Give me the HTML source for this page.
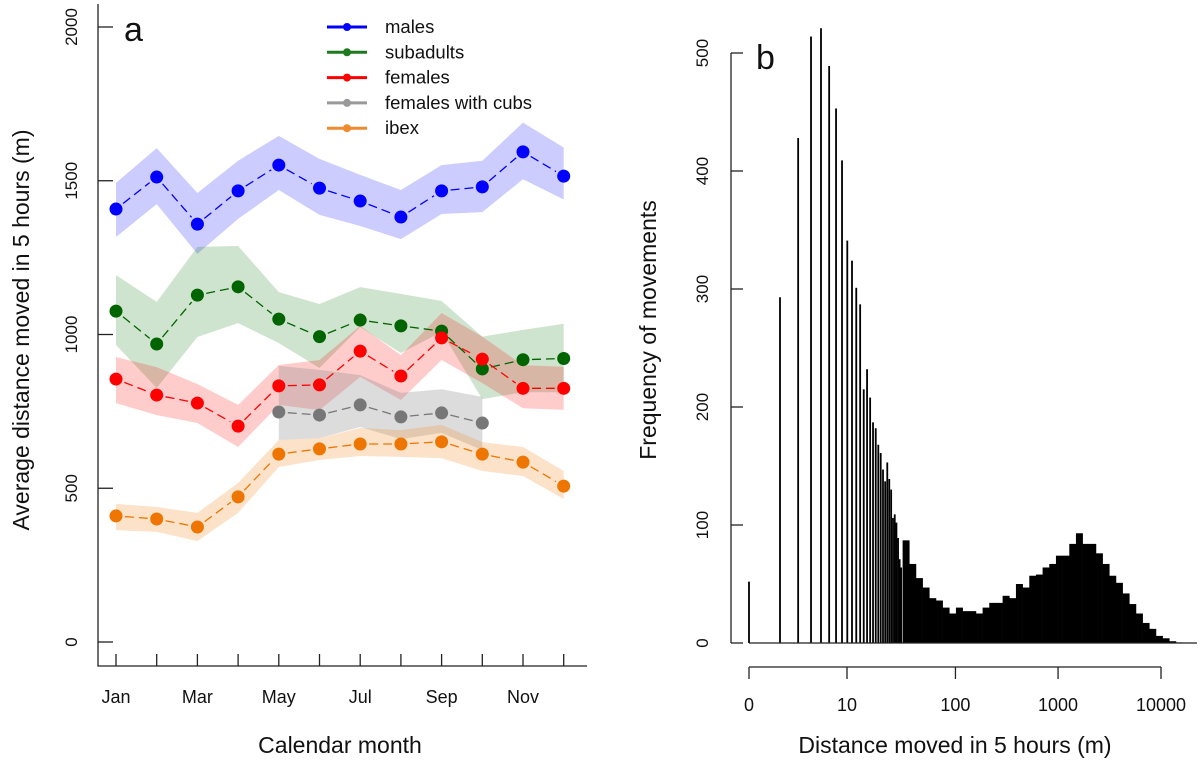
<!DOCTYPE html>
<html><head><meta charset="utf-8"><style>
html,body{margin:0;padding:0;background:#fff;}
svg{display:block;font-family:"Liberation Sans",Arial,sans-serif;}
</style></head><body>
<svg id="chart" width="1200" height="774" viewBox="0 0 1200 774" xmlns="http://www.w3.org/2000/svg">
<g id="pa"></g>
<g id="pb"></g>
</svg>
<script>
// ---------- Panel a data ----------
const months = ["Jan","Feb","Mar","Apr","May","Jun","Jul","Aug","Sep","Oct","Nov","Dec"];
const monthLabels = ["Jan","","Mar","","May","","Jul","","Sep","","Nov",""];
const yTicksA = [0,500,1000,1500,2000];
const malesMean = [1408,1512,1359,1467,1551,1476,1434,1382,1467,1480,1594,1515];
const malesHi =   [1493,1606,1460,1565,1646,1571,1519,1470,1551,1565,1689,1608];
const malesLo =   [1317,1424,1262,1376,1470,1389,1353,1310,1392,1398,1505,1439];
const subMean = [1076,969,1128,1155,1050,993,1047,1028,1011,888,918,922];
const subHi =   [1193,1106,1285,1288,1138,1099,1154,1132,1109,993,1015,1035];
const subLo =   [966,826,992,1037,972,891,1024,940,1008,790,812,812];
const femMean = [855,803,777,702,833,836,946,865,989,920,825,825];
const femHi =   [927,894,839,771,901,917,1028,933,1070,993,900,895];
const femLo =   [777,738,712,634,771,754,862,787,917,842,760,755];
const cubMonths = [4,5,6,7,8,9];
const cubMean = [748,738,771,732,745,712];
const cubHi =   [898,885,868,810,822,797];
const cubLo =   [657,663,699,660,680,624];
const ibexMean = [410,400,374,472,611,628,644,644,651,611,585,507];
const ibexHi =   [449,439,420,517,657,663,696,689,706,650,634,556];
const ibexLo =   [364,358,328,420,569,592,605,602,598,556,540,465];

// ---------- Panel b data ----------
const spikeCounts = [52,293,428,514,521,489,453,409,341,324,301,287,215,232,208,187,182,168,161,147,137,153,139,130,106,109,102,89,71,64];
const contFreq = [87,67,55,47,38,36,30,25,30,27,27,25,30,34,34,40,38,50,47,57,58,64,67,74,74,84,93,84,84,76,67,57,51,42,33,25,17,12,6,4,1.5,0.5,0];
const xTicksB = [0,10,100,1000,10000];
const yTicksB = [0,100,200,300,400,500];
const contStart = 30, contStepDecades = 1/15.45;

const NS="http://www.w3.org/2000/svg";
function mk(tag, attrs, parent){const e=document.createElementNS(NS,tag);for(const k in attrs)e.setAttribute(k,attrs[k]);parent.appendChild(e);return e;}
function txt(s, attrs, parent){const e=mk('text',attrs,parent);e.textContent=s;return e;}

// ---------- Panel a ----------
const pa=document.getElementById('pa');
const xA = i => 116 + i*40.7;
const yA = v => 642 - v*0.3075;

function band(idx, hi, lo, fill, name){
  let pts=idx.map((m,k)=>xA(m)+','+yA(hi[k]));
  pts=pts.concat(idx.slice().reverse().map((m,k)=>xA(m)+','+yA(lo[idx.length-1-k])));
  const p=mk('polygon',{points:pts.join(' '),fill:fill,stroke:'none'},pa);
  
  
}
function series(idx, mean, color, name){
  const g=mk('g',{},pa);
  
  
  for(let k=0;k<idx.length-1;k++){
    const x1=xA(idx[k]),y1=yA(mean[k]),x2=xA(idx[k+1]),y2=yA(mean[k+1]);
    const L=Math.hypot(x2-x1,y2-y1),g0=9;
    if(L>2*g0){const ux=(x2-x1)/L,uy=(y2-y1)/L;
      mk('line',{x1:x1+ux*g0,y1:y1+uy*g0,x2:x2-ux*g0,y2:y2-uy*g0,stroke:color,'stroke-width':1.3,'stroke-dasharray':'9,5'},g);}
  }
  idx.forEach((m,k)=>{
    const c=mk('circle',{cx:xA(m),cy:yA(mean[k]),r:6.5,fill:color},g);
    
    
  });
}
const all=months.map((_,i)=>i);
band(all,malesHi,malesLo,'rgba(0,0,255,0.2)','males-ci-band');
band(all,subHi,subLo,'rgba(0,110,0,0.19)','subadults-ci-band');
band(all,femHi,femLo,'rgba(255,0,0,0.2)','females-ci-band');
band(cubMonths,cubHi,cubLo,'rgba(128,128,128,0.28)','cubs-ci-band');
band(all,ibexHi,ibexLo,'rgba(240,140,40,0.25)','ibex-ci-band');
series(all,malesMean,'#0000ff','males-series');
series(all,subMean,'#006400','subadults-series');
series(all,femMean,'#ff0000','females-series');
series(cubMonths,cubMean,'#777777','cubs-series');
series(all,ibexMean,'#ee7600','ibex-series');

// axes a
const axA=mk('g',{},pa);


mk('path',{d:'M98,4 L98,666 L587,666',fill:'none',stroke:'#222','stroke-width':1.3},axA);
yTicksA.forEach(v=>{
  mk('line',{x1:98,x2:113,y1:yA(v),y2:yA(v),stroke:'#222','stroke-width':1.3},axA);
  const t=txt(String(v),{x:0,y:0,'font-size':17,'text-anchor':'middle',fill:'#111',transform:`translate(77,${yA(v)}) rotate(-90)`},axA);
  
  
});
months.forEach((m,i)=>{
  mk('line',{x1:xA(i),x2:xA(i),y1:654,y2:666,stroke:'#222','stroke-width':1.3},axA);
  if(monthLabels[i]){
    const t=txt(monthLabels[i],{x:xA(i),y:703,'font-size':18,'text-anchor':'middle',fill:'#111'},axA);
    
    
  }
});
txt('Calendar month',{x:340,y:753,'font-size':23,'text-anchor':'middle',fill:'#111',},pa);
txt('Average distance moved in 5 hours (m)',{x:0,y:0,'font-size':23,'text-anchor':'middle',fill:'#111',transform:'translate(29,330) rotate(-90)',},pa);
txt('a',{x:124,y:41,'font-size':34,fill:'#111',},pa);

// legend
const legend=mk('g',{},pa);
const legItems=[['males','#0000ff'],['subadults','#1e7a1e'],['females','#ff0000'],['females with cubs','#999999'],['ibex','#f08a30']];
legItems.forEach((it,k)=>{
  const y=27+k*25.3;
  const g=mk('g',{},legend);
  
  
  mk('line',{x1:327,x2:367,y1:y,y2:y,stroke:it[1],'stroke-width':3},g);
  mk('circle',{cx:347,cy:y,r:4,fill:it[1]},g);
  txt(it[0],{x:385,y:y+6,'font-size':18.5,fill:'#111'},g);
});

// ---------- Panel b ----------
const pb=document.getElementById('pb');
const xB = d => 749 + 103*Math.log10(d+1);
const yB = f => 643 - f*1.18;
const bars=mk('g',{},pb);
spikeCounts.forEach((f,d)=>{
  const r=mk('rect',{x:xB(d)-0.9,y:yB(f),width:1.8,height:643-yB(f),fill:'#000'},bars);
  
  
});
contFreq.forEach((f,i)=>{
  const l0=Math.log10(contStart+1)+i*contStepDecades, l1=l0+contStepDecades;
  const x0=xB(Math.pow(10,l0)-1), x1=xB(Math.pow(10,l1)-1);
  const r=mk('rect',{x:x0,y:yB(f),width:x1-x0+0.3,height:643-yB(f),fill:'#000'},bars);
  
  
});
const axB=mk('g',{},pb);
mk('line',{x1:749,x2:1197,y1:643,y2:643,stroke:'#222','stroke-width':1.3},axB);
mk('line',{x1:731,x2:731,y1:yB(500),y2:yB(0),stroke:'#222','stroke-width':1.3},axB);
yTicksB.forEach(v=>{
  mk('line',{x1:731,x2:743,y1:yB(v),y2:yB(v),stroke:'#222','stroke-width':1.3},axB);
  const t=txt(String(v),{x:0,y:0,'font-size':17,'text-anchor':'middle',fill:'#111',transform:`translate(708,${yB(v)}) rotate(-90)`},axB);
  
  
});
mk('line',{x1:xB(0),x2:xB(10000),y1:667,y2:667,stroke:'#222','stroke-width':1.3},axB);
xTicksB.forEach(v=>{
  const x = v===10 ? 847 : xB(v);
  mk('line',{x1:x,x2:x,y1:667,y2:679,stroke:'#222','stroke-width':1.3},axB);
  const t=txt(String(v),{x:x,y:711,'font-size':18,'text-anchor':'middle',fill:'#111'},axB);
  
  
});
txt('Distance moved in 5 hours (m)',{x:955,y:753,'font-size':23,'text-anchor':'middle',fill:'#111',},pb);
txt('Frequency of movements',{x:0,y:0,'font-size':23,'text-anchor':'middle',fill:'#111',transform:'translate(656,330) rotate(-90)',},pb);
txt('b',{x:756,y:69,'font-size':34,fill:'#111',},pb);
</script>
</body></html>
